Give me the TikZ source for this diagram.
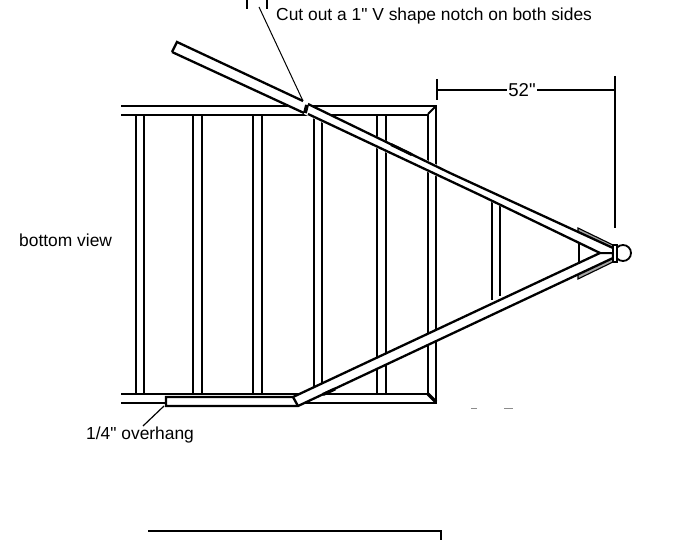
\documentclass[tikz,border=0pt]{standalone}
\usepackage{fontspec}
\newfontfamily\labfont[Ligatures=NoCommon]{Liberation Sans}
\tikzset{
  beam/.style={draw=black,line width=2.3pt,line join=miter},
  whitebeam/.style={beam,fill=white},
  thin leader/.style={draw=black,line width=1pt},
  label/.style={inner sep=0pt,anchor=base west,font=\labfont\fontsize{17.4}{20}\selectfont},
  plate/.style={draw=black,fill=black!35,line width=1.1pt},
  speck/.style={draw=black!45,line width=1pt}
}
\begin{document}
\begin{tikzpicture}[x=1pt,y=-1pt]
\useasboundingbox (0,0) rectangle (680,540);
% frame
\draw[beam] (121,106) -- (436,106) -- (436,403) -- (121,403);
\draw[beam] (121,115) -- (428,115) -- (428,394) -- (121,394);
\draw[beam,line width=1.8pt] (428,114) -- (436,106);
\draw[beam,line width=3.2pt] (428,394) -- (436,402);
% studs
\foreach \a/\b in {136/144,193/202,253/262,314/322,377/386}{
  \draw[beam] (\a,115) -- (\a,394);
  \draw[beam] (\b,115) -- (\b,394);
}
\draw[beam] (492,200) -- (492,300);
\draw[beam] (500,204) -- (500,296);
\draw[beam,line width=1.6pt] (579,240) -- (579,266);
% side plates
\draw[plate] (578,228) -- (613,245) -- (613,250) -- (578,233) -- cycle;
\draw[plate] (578,279) -- (613,262) -- (613,257) -- (578,274) -- cycle;
% lower tongue
\coordinate (railtl) at (166,397);
\coordinate (railbl) at (166,406);
\draw[whitebeam] (railtl) -- (293,397) -- (600,253) -- (613,253) -- (613,258) -- (298,406) -- (railbl) -- cycle;
\draw[beam] (293,397) -- (298,406);
\draw[beam,line width=3.2pt] (323,394.5) -- (335,389);
% upper tongue
\coordinate (notchtop) at (303,101);
\fill[white] (177,42) -- (613,248) -- (613,253) -- (600,253) -- (172,52) -- cycle;
\draw[beam] (172,52) -- (177,42) -- (notchtop);
\draw[beam] (172,52) -- (304,113);
\draw[beam] (308,104) -- (450,173) -- (613,248);
\draw[beam] (308,114) -- (480,195) -- (600,253);
\draw[beam,line width=1.2pt] (600,253) -- (613,253);
\draw[beam,line width=3pt] (391,144.5) -- (412,154.7);
\draw[draw=black,line width=3.8pt] (307,105) -- (305,113);
% hitch
\node[circle,draw=black,fill=white,line width=1.8pt,minimum size=16pt,inner sep=0pt] (ball) at (623,253) {};
\draw[draw=black,fill=white,line width=1.6pt] (613,245) rectangle (617,262);
% dimensions
\draw[beam,line width=1.4pt] (437,79) -- (437,100);
\draw[beam,line width=2pt] (615,76) -- (615,228);
\node[label,anchor=center,inner xsep=1.5pt,font=\labfont\fontsize{18.6}{20}\selectfont] (dim) at (522,90) {52"};
\coordinate (dimL) at (437,90);
\coordinate (dimR) at (615,90);
\draw[beam,line width=1.4pt] (dimL) -- (dim.west |- dimL);
\draw[beam,line width=1.4pt] (dim.east |- dimR) -- (dimR);
% notch label
\node[label] (cut) at (276,20.5) {Cut out a 1" V shape notch on both sides};
\coordinate (cutfoot) at (259,7);
\draw[thin leader] (cutfoot) -- (notchtop);
\draw[thin leader,line width=1.2pt] (247,0) -- (247,9);
\draw[thin leader,line width=1.2pt] (267,0) -- (267,9);
% other labels
\node[label] (bv) at (19,246.5) {bottom view};
\node[label] (oh) at (86,439) {1/4" overhang};
\coordinate (ohfoot) at (143,426);
\draw[thin leader,line width=1.2pt] (ohfoot) -- (164,406);
% lower figure
\draw[beam,line width=2pt] (148,531) -- (441,531) -- (441,540);
% specks
\draw[speck] (471,408) -- (477,408);
\draw[speck] (504,408) -- (513,408);
\end{tikzpicture}
\end{document}
